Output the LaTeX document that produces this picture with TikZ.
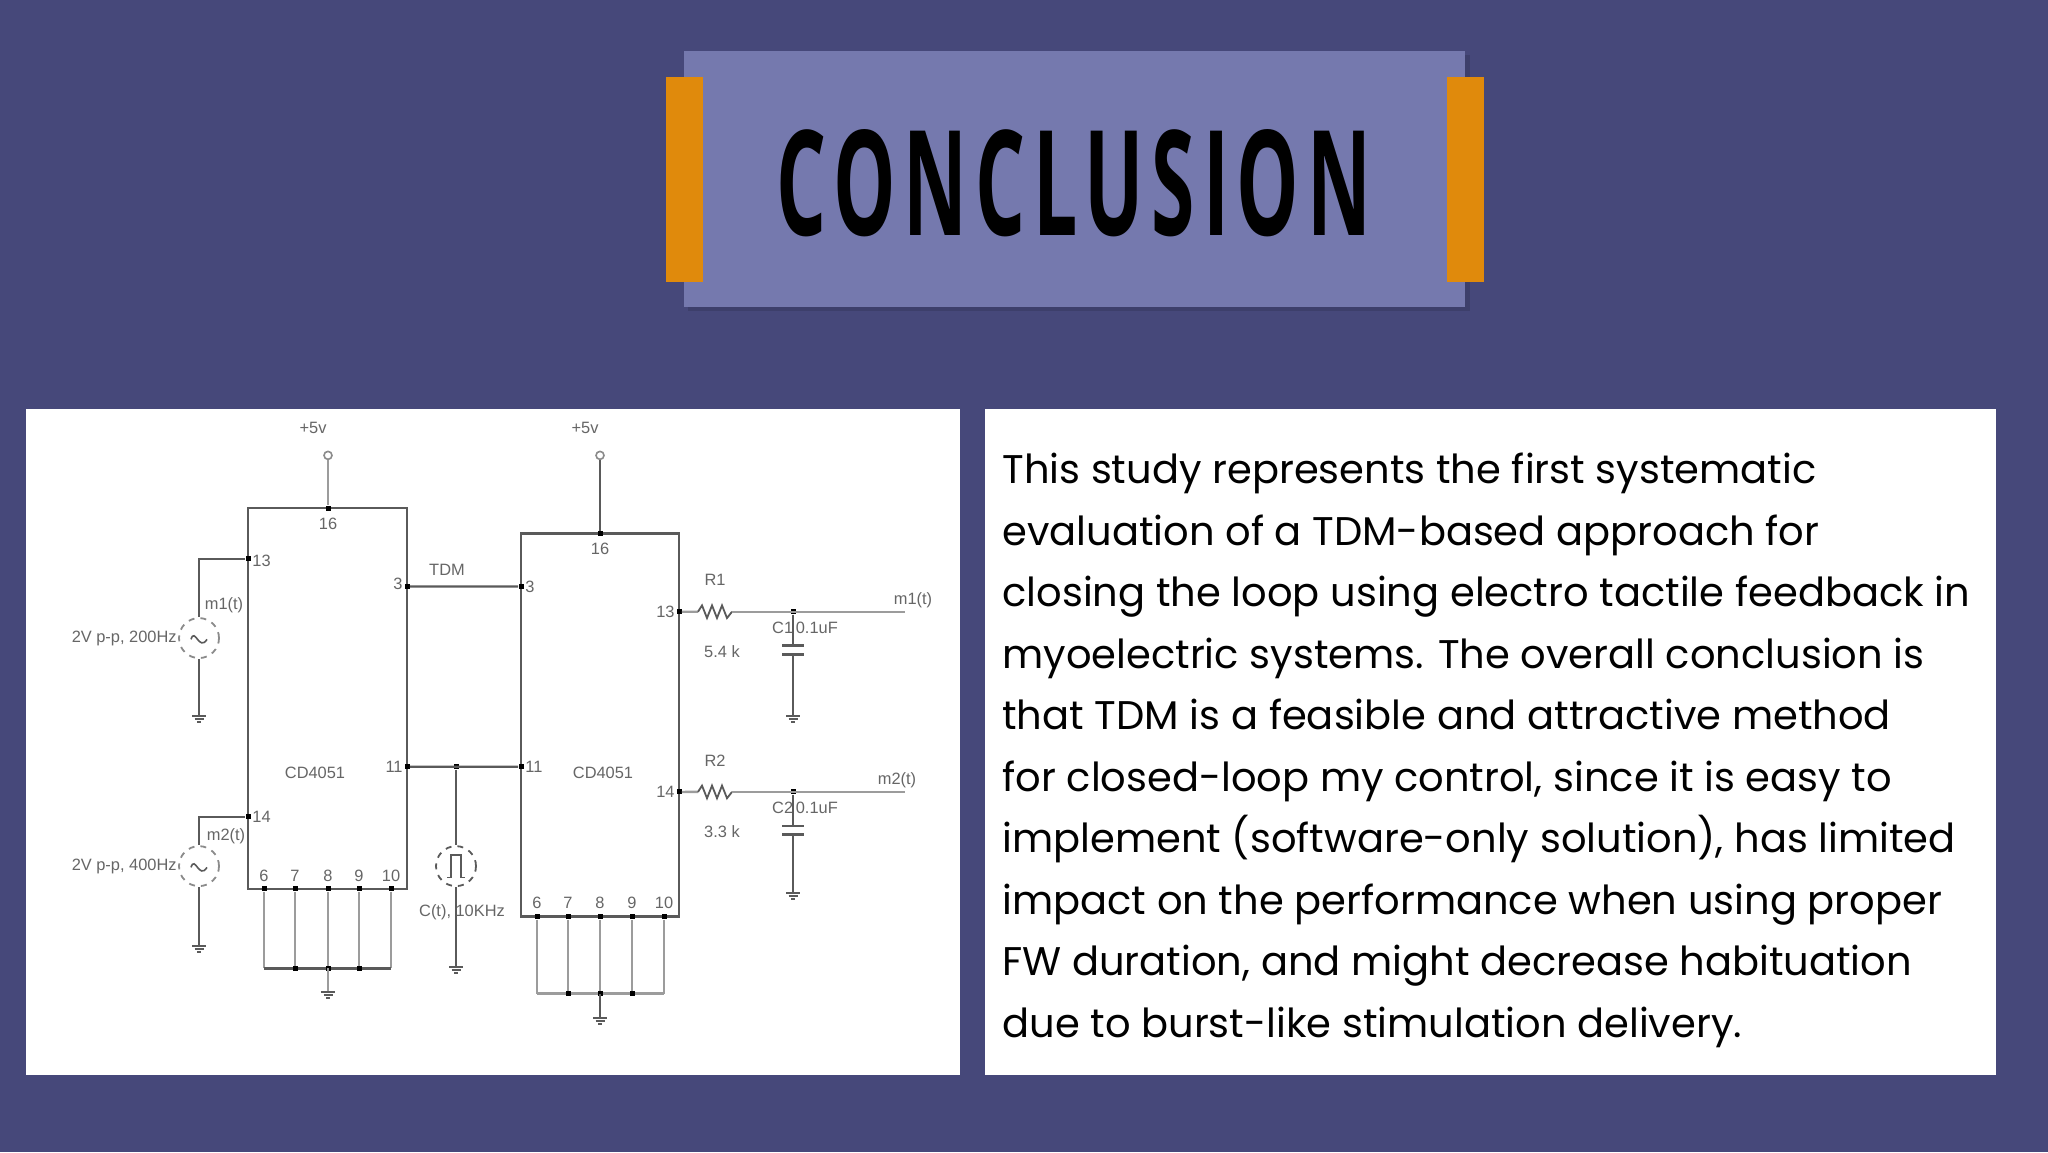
\documentclass[tikz,border=0pt]{standalone}
\usepackage{fontspec}
\setmainfont{Poppins}
\newfontfamily\cfont{Liberation Sans}
\newfontfamily\tfont{Open Sans}
\definecolor{bg}{HTML}{46487A}
\definecolor{tbox}{HTML}{7579AE}
\definecolor{orng}{HTML}{E08A0C}
\definecolor{wire}{HTML}{5A5A5A}
\definecolor{lbl}{HTML}{666666}
\tikzset{
  w/.style={draw=wire,line width=1.2pt},
  lw/.style={draw=wire!60,line width=1.2pt},
  ctxt/.style={font=\cfont\fontsize{8.2}{9}\selectfont,text=lbl,inner sep=0pt},
  pin/.style={fill=black,minimum size=2.5pt,inner sep=0pt,draw=none,rectangle},
  gnd/.pic={\draw[wire,line width=1pt] (-7,0)--(7,0) (-4.5,3)--(4.5,3) (-2,6)--(2,6);},
  src/.style={circle,draw=wire!70,dashed,line width=0.9pt,minimum size=20pt,inner sep=0pt}
}
\begin{document}
\begin{tikzpicture}[x=0.5pt,y=-0.5pt]
\useasboundingbox (0,0) rectangle (2048,1152);
\fill[bg] (0,0) rectangle (2048,1152);
% title
\fill[black,opacity=0.12] (688,55) rectangle (1470,311);
\node[fill=tbox,minimum width=390.5pt,minimum height=128pt,inner sep=0pt] (title) at (1074.5,179) {};
\fill[orng] (666,77) rectangle (703,282);
\fill[orng] (1447,77) rectangle (1484,282);
\node[inner sep=0pt] (ttext) at (1074,183) {\resizebox{297pt}{53pt}{\tfont\bfseries\addfontfeature{LetterSpace=10} CONCLUSION}};
% panels
\node[fill=white,minimum width=467pt,minimum height=333pt,inner sep=0pt] (lpanel) at (493,742) {};
\node[fill=white,minimum width=505.5pt,minimum height=333pt,inner sep=0pt] (rpanel) at (1490.5,742) {};
\node[anchor=north west,align=left,inner sep=0pt,font=\fontsize{20}{30.75}\selectfont] (body) at (1002,453) {%
This study represents the first systematic\\
evaluation of a TDM-based approach for\\
closing the loop using electro tactile feedback in\\
myoelectric systems. The overall conclusion is\\
that TDM is a feasible and attractive method\\
for closed-loop my control, since it is easy to\\
implement (software-only solution), has limited\\
impact on the performance when using proper\\
FW duration, and might decrease habituation\\
due to burst-like stimulation delivery.};
\begin{scope}[shift={(0,-106.6)},yscale=1.26]
% ===== left chip
\draw[w] (248,488) rectangle (407,790);
\node[ctxt] (chipA) at (315,698) {CD4051};
\node[ctxt] (vA) at (313,424) {+5v};
\node[circle,draw=wire!70,line width=0.8pt,minimum size=4pt,inner sep=0pt] (vcA) at (328,446) {};
\node[pin] (p16A) at (328,488) {};
\draw[lw] (vcA) -- (p16A);
\node[ctxt] at (328,500) {16};
\node[pin] (p13A) at (248,528) {};
\node[ctxt,anchor=west] at (252,530) {13};
\node[src] (s1) at (199,591) {};
\draw[wire,line width=0.8pt] (191,592) .. controls (195,582) and (199,602) .. (207,592);
\draw[w] (p13A) -| (s1.north);
\coordinate (g1) at (199,653);
\draw[w] (s1.south) -- (g1);
\pic at (g1) {gnd};
\node[ctxt,anchor=east] at (177,591) {2V p-p, 200Hz};
\node[ctxt] at (224,565) {m1(t)};
\node[pin] (p14A) at (248,733) {};
\node[ctxt,anchor=west] at (252,733) {14};
\node[src] (s2) at (199,772) {};
\draw[wire,line width=0.8pt] (191,773) .. controls (195,763) and (199,783) .. (207,773);
\draw[w] (p14A) -| (s2.north);
\coordinate (g2) at (199,835);
\draw[w] (s2.south) -- (g2);
\pic at (g2) {gnd};
\node[ctxt,anchor=east] at (177,772) {2V p-p, 400Hz};
\node[ctxt] at (226,748) {m2(t)};
\node[pin] (p3A) at (407,550) {};
\node[ctxt,anchor=east] at (403,548) {3};
\node[pin] (p11A) at (407,693) {};
\node[ctxt,anchor=east] at (403,693) {11};
\foreach \x/\n in {264/6,295/7,328/8,359/9,391/10}{
  \node[pin] (bA\n) at (\x,790) {};
  \node[ctxt] at (\x,780) {\n};
  \coordinate (cA\n) at (\x,853);
  \draw[lw] (bA\n) -- (cA\n);
}
\draw[w] (cA6) -- (cA10);
\foreach \n in {7,8,9}{\node[pin] at (cA\n) {};}
\coordinate (g3) at (328,872);
\draw[lw] (cA8) -- (g3);
\pic at (g3) {gnd};
% ===== right chip
\draw[w] (521,508) rectangle (679,812);
\node[ctxt] (chipB) at (603,698) {CD4051};
\node[ctxt] (vB) at (585,424) {+5v};
\node[circle,draw=wire!70,line width=0.8pt,minimum size=4pt,inner sep=0pt] (vcB) at (600,446) {};
\node[pin] (p16B) at (600,508) {};
\draw[w] (vcB) -- (p16B);
\node[ctxt] at (600,520) {16};
\node[pin] (p3B) at (521,550) {};
\node[ctxt,anchor=west] at (525,550) {3};
\node[pin] (p11B) at (521,693) {};
\node[ctxt,anchor=west] at (525,693) {11};
\draw[w] (p3A) -- (p3B);
\node[ctxt] at (447,537) {TDM};
\node[pin] (j1) at (456,693) {};
\draw[w] (p11A) -- (p11B);
\node[src,dashed=false,draw=wire] (clk) at (456,772) {};
\draw[wire,line width=0.8pt] (447,781) -- (451,781) -- (451,763) -- (461,763) -- (461,781) -- (465,781);
\draw[w] (j1) -- (clk.north);
\coordinate (g4) at (456,852);
\draw[w] (clk.south) -- (g4);
\pic at (g4) {gnd};
\node[ctxt,anchor=north] at (462,802) {C(t), 10KHz};
\foreach \y/\r/\p/\v/\c/\m/\mx/\g in {570/R1/13/5.4 k/C1/m1(t)/913/653, 713/R2/14/3.3 k/C2/m2(t)/897/793}{
  \node[pin] (po\r) at (679,\y) {};
  \node[ctxt,anchor=east] at (675,\y) {\p};
  \coordinate (ra\r) at (698,\y);
  \coordinate (rb\r) at (732,\y);
  \draw[lw] (po\r) -- (ra\r);
  \draw[wire,line width=0.9pt] (ra\r) -- ++(4,-5) -- ++(5,10) -- ++(5,-10) -- ++(5,10) -- ++(5,-10) -- ++(5,10) -- (rb\r);
  \node[pin] (jc\r) at (793,\y) {};
  \coordinate (end\r) at (905,\y);
  \draw[lw] (rb\r) -- (end\r);
  \node[ctxt] at (715,\y-25) {\r};
  \node[ctxt] at (722,\y+32) {\v};
  \node[ctxt] at (805,\y+13) {\c\,0.1uF};
  \node[ctxt,anchor=south] at (\mx,\y-3) {\m};
  \coordinate (cp1\r) at (793,\y+27);
  \coordinate (cp2\r) at (793,\y+34);
  \draw[w] (jc\r) -- (cp1\r);
  \draw[wire,line width=1.2pt] (782,\y+27) -- (804,\y+27) (782,\y+34) -- (804,\y+34);
  \coordinate (gc\r) at (793,\g);
  \draw[w] (cp2\r) -- (gc\r);
  \pic at (gc\r) {gnd};
}
\foreach \x/\n in {537/6,568/7,600/8,632/9,664/10}{
  \node[pin] (bB\n) at (\x,812) {};
  \node[ctxt] at (\x,801) {\n};
  \coordinate (cB\n) at (\x,873);
  \draw[lw] (bB\n) -- (cB\n);
}
\draw[lw] (cB6) -- (cB10);
\foreach \n in {7,8,9}{\node[pin] at (cB\n) {};}
\coordinate (g5) at (600,892);
\draw[w] (cB8) -- (g5);
\pic at (g5) {gnd};
\end{scope}
\end{tikzpicture}
\end{document}
